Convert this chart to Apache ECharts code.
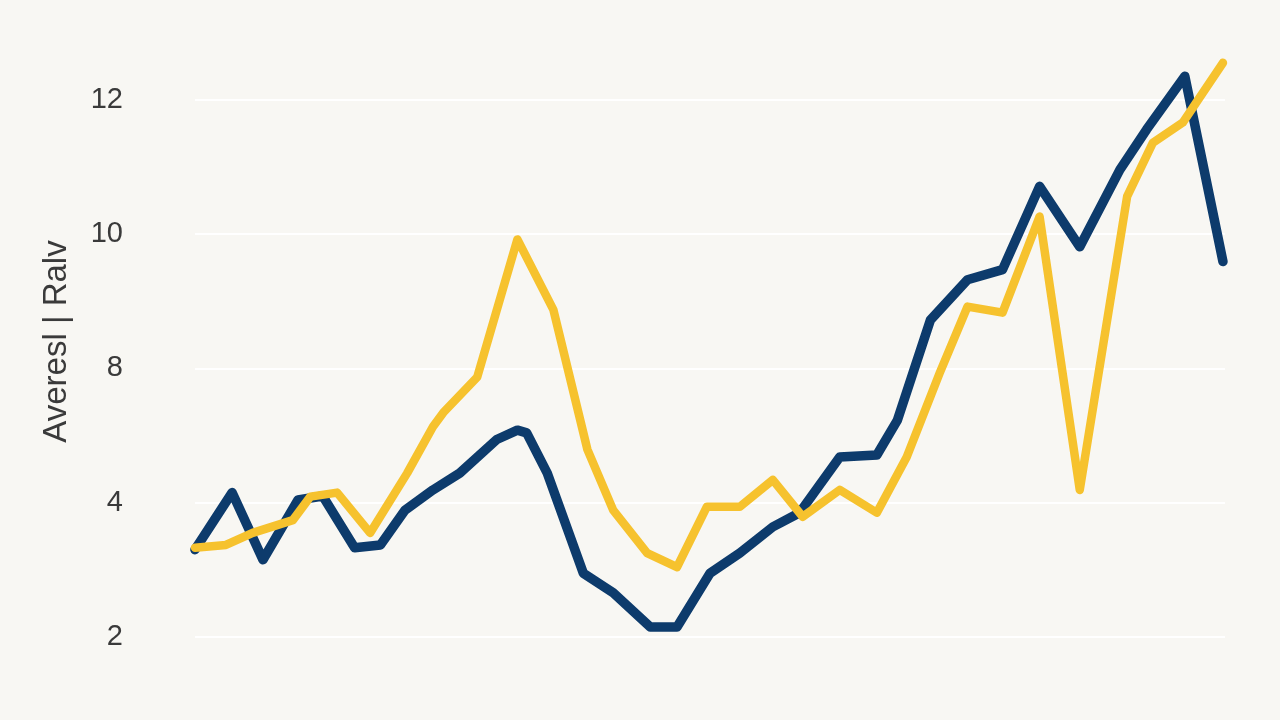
<!DOCTYPE html>
<html>
<head>
<meta charset="utf-8">
<script src="https://cdn.jsdelivr.net/npm/echarts@6/dist/echarts.min.js"></script>
<style>
  html, body { margin: 0; padding: 0; background: #f8f7f3; }
  #chart { width: 1280px; height: 720px; }
</style>
</head>
<body>
<div id="chart"></div>
<script>
// tick labels as printed on the chart (evenly spaced, 2 units apart on the axis)
var tickValues = [2, 4, 6, 8, 10];
var tickLabels = ['2', '4', '8', '10', '12'];

// navy series
var navyX = [0, 3.6, 6.6, 10.0, 12.4, 15.5, 18.0, 20.4, 23.1, 25.7, 29.3, 31.3, 32.2, 34.2, 37.7, 40.6,
             44.2, 46.8, 50.0, 52.9, 56.1, 58.7, 62.6, 66.2, 68.2, 71.4, 75.0, 78.4, 82.0, 85.9,
             89.8, 92.4, 96.1, 99.8];
var navyY = [3.3, 4.15, 3.15, 4.04, 4.1, 3.33, 3.37, 3.89, 4.19, 4.44, 4.94, 5.08, 5.04, 4.44, 2.95, 2.66,
             2.15, 2.15, 2.95, 3.25, 3.64, 3.85, 4.68, 4.71, 5.23, 6.72, 7.32, 7.47, 8.71, 7.81,
             8.96, 9.56, 10.35, 7.59];

// yellow series
var goldX = [0, 3.0, 5.6, 9.5, 11.2, 13.8, 17.0, 20.6, 23.1, 24.1, 27.4, 31.3, 34.8, 38.1, 40.6,
             43.9, 46.8, 49.7, 52.9, 56.1, 59.0, 62.6, 66.2, 69.1, 72.3, 75.0, 78.4, 82.0, 85.9,
             90.5, 93.0, 95.9, 99.8];
var goldY = [3.33, 3.37, 3.55, 3.74, 4.09, 4.15, 3.55, 4.44, 5.13, 5.34, 5.87, 7.92, 6.87, 4.79, 3.89,
             3.25, 3.04, 3.94, 3.94, 4.34, 3.79, 4.19, 3.85, 4.68, 5.93, 6.92, 6.83, 8.26, 4.19,
             8.56, 9.36, 9.66, 10.55];

function pairs(xs, ys) {
    var out = [];
    for (var i = 0; i < xs.length; i++) out.push([xs[i], ys[i]]);
    return out;
}

var bg = '#f8f7f3';
var chart = echarts.init(document.getElementById('chart'));
chart.setOption({
    backgroundColor: bg,
    animation: false,
    grid: { left: 195, right: 55, top: 46, bottom: 83 },
    xAxis: {
        type: 'value',
        min: 0,
        max: 100,
        show: false
    },
    yAxis: {
        type: 'value',
        min: 2,
        max: 10.8,
        interval: 2,
        name: 'Averesl | Ralv',
        nameLocation: 'middle',
        nameGap: 122,
        nameTextStyle: { color: '#3a3a3a', fontSize: 33, fontFamily: 'Liberation Sans' },
        axisLine: { show: false },
        axisTick: { show: false },
        axisLabel: {
            color: '#3a3a3a',
            fontSize: 29,
            fontFamily: 'Liberation Sans',
            margin: 72,
            showMaxLabel: false,
            formatter: function (v) {
                var i = tickValues.indexOf(v);
                return i >= 0 ? tickLabels[i] : '';
            }
        },
        // last line is the plot's top edge, hidden against the background
        splitLine: { lineStyle: { color: ['#ffffff', '#ffffff', '#ffffff', '#ffffff', '#ffffff', bg], width: 2 } }
    },
    series: [{
        type: 'line',
        data: pairs(navyX, navyY),
        showSymbol: false,
        lineStyle: { color: '#0d3b6c', width: 9.5, join: 'round', cap: 'round' },
        z: 2
    }, {
        type: 'line',
        data: pairs(goldX, goldY),
        showSymbol: false,
        lineStyle: { color: '#f6c22e', width: 8.5, join: 'round', cap: 'round' },
        z: 3
    }]
});
</script>
</body>
</html>
